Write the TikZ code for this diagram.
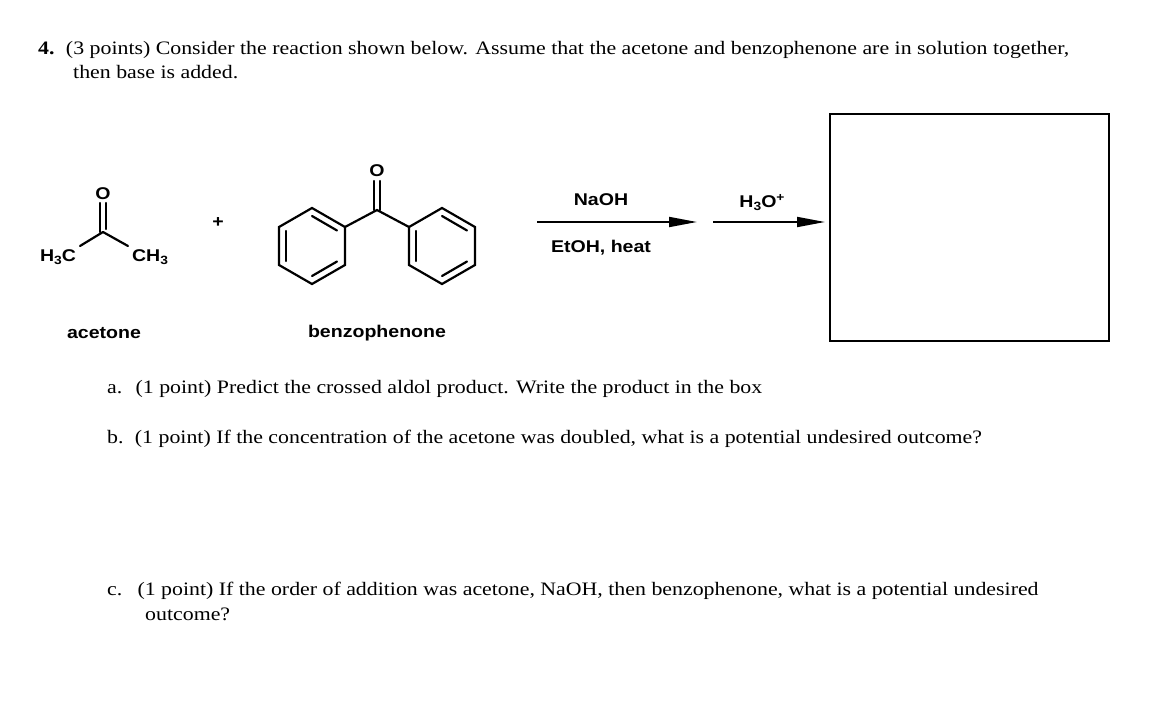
\documentclass[tikz,border=0pt]{standalone}
\usepackage{fontspec}
\setmainfont{Liberation Serif}[FakeStretch=1.15]
\setsansfont{Liberation Sans}[FakeStretch=1.15]
\usetikzlibrary{arrows.meta}
\begin{document}
\begin{tikzpicture}[x=1pt,y=-1pt,
  txt/.style={anchor=base west,inner sep=0,font=\fontsize{19}{22}\selectfont},
  chem/.style={inner sep=0,font=\sffamily\bfseries\fontsize{17}{19}\selectfont},
  bond/.style={line width=2.2pt,line cap=round},
  rx/.style={line width=1.8pt,-{Triangle[length=28pt,width=10pt]}}]
\useasboundingbox (0,0) rectangle (1172,706);
\node[txt] (t1) at (38,55) {\textbf{4.}\hspace{0.6em}(3 points) Consider the reaction shown below. Assume that the acetone and benzophenone are in solution together,};
\node[txt] (t2) at (73,79) {then base is added.};
% acetone
\node[chem] (ao) at (103,194) {O};
\node[chem] (ah1) at (58,257) {H{\fontsize{12}{12}\selectfont\raisebox{-3pt}{3}}C};
\node[chem] (ah2) at (150,257) {CH{\fontsize{12}{12}\selectfont\raisebox{-3pt}{3}}};
\coordinate (ac) at (103,232);
\draw[bond] (ac) -- (80,246);
\draw[bond] (ac) -- (128,246);
\draw[bond] (100,203) -- (100,232) (106,203) -- (106,229);
\node[chem] (plus) at (218,223) {+};
% benzophenone
\node[chem] (bo) at (377,171) {O};
\coordinate (bc) at (377,210);
\draw[bond] (374,181) -- (374,210) (380,181) -- (380,210);
\foreach \cx in {312,442}{
  \draw[bond] (\cx,208) -- ++(33,19) -- ++(0,38) -- ++(-33,19) -- ++(-33,-19) -- ++(0,-38) -- cycle;
  \draw[bond] (\cx,216) -- ++(25,14.5);
  \draw[bond] (\cx-26,231) -- ++(0,30);
  \draw[bond] (\cx,276) -- ++(25,-14.5);
}
\draw[bond] (345,227) -- (bc) -- (409,227);
% arrows
\coordinate (a1s) at (537,222); \coordinate (a1e) at (697,222);
\coordinate (a2s) at (713,222); \coordinate (a2e) at (825,222);
\draw[rx] (a1s) -- (a1e);
\draw[rx] (a2s) -- (a2e);
\node[chem] (naoh) at (601,200) {NaOH};
\node[chem] (etoh) at (601,248) {EtOH, heat};
\node[chem] (h3o) at (762,203) {H{\fontsize{12}{12}\selectfont\raisebox{-3pt}{3}}O{\fontsize{12}{12}\selectfont\raisebox{6pt}{+}}};
\node[draw,line width=1.8pt,minimum width=279pt,minimum height=227pt,anchor=north west] (box) at (829,113) {};
\node[chem] (l1) at (104,333) {acetone};
\node[chem] (l2) at (377,333) {benzophenone};
\node[txt] (qa) at (107,393) {a.\hspace{0.7em}(1 point) Predict the crossed aldol product. Write the product in the box};
\node[txt] (qb) at (107,443) {b.\hspace{0.6em}(1 point) If the concentration of the acetone was doubled, what is a potential undesired outcome?};
\node[txt] (qc) at (107,595) {c.\hspace{0.8em}(1 point) If the order of addition was acetone, NaOH, then benzophenone, what is a potential undesired};
\node[txt] (qc2) at (145,620) {outcome?};
\end{tikzpicture}
\end{document}
